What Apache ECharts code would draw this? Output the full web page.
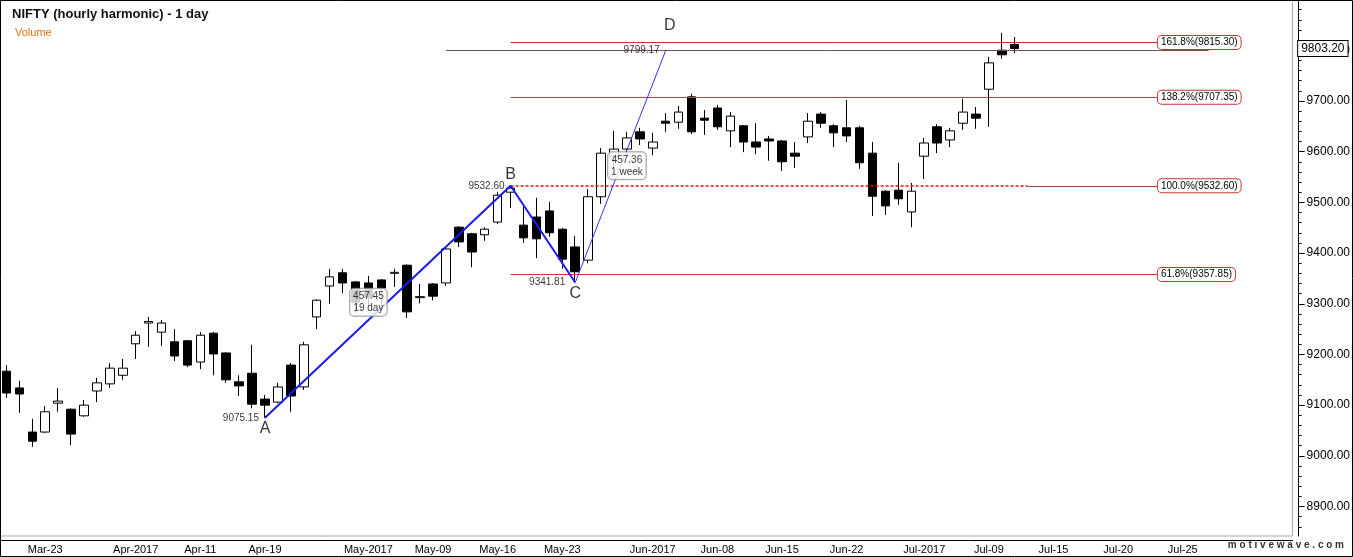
<!DOCTYPE html>
<html>
<head>
<meta charset="utf-8">
<script src="https://cdn.jsdelivr.net/npm/echarts@6/dist/echarts.min.js"></script>
<style>
html, body { margin: 0; padding: 0; background: #fff; }
#chart { width: 1353px; height: 557px; }
</style>
</head>
<body>
<div id="chart"></div>
<script>
// daily candles, [open, close, low, high]
var candles = [
  [9167,9124,9114,9179],[9134,9122,9085,9148],[9047,9029,9018,9073],[9047,9087,9045,9098],
  [9104,9108,9087,9134],[9092,9043,9021,9094],[9079,9100,9077,9110],[9128,9144,9106,9154],
  [9142,9173,9134,9183],[9159,9173,9150,9191],[9221,9238,9191,9246],[9262,9265,9215,9274],
  [9244,9262,9217,9268],[9225,9197,9187,9250],[9227,9179,9175,9228],[9185,9238,9171,9244],
  [9242,9201,9159,9244],[9203,9150,9144,9204],[9146,9138,9118,9159],[9163,9102,9094,9219],
  [9112,9100,9075.15,9120],[9106,9136,9104,9144],[9179,9118,9087,9183],[9136,9219,9130,9225],
  [9274,9307,9250,9309],[9335,9353,9300,9369],[9361,9341,9321,9369],[9343,9303,9282,9345],
  [9341,9313,9294,9355],[9347,9331,9288,9348],[9360,9362,9333,9369],[9376,9284,9272,9378],
  [9312,9314,9301,9339],[9339,9315,9307,9341],[9341,9408,9335,9410],[9451,9422,9412,9453],
  [9438,9402,9372,9440],[9436,9447,9424,9451],[9461,9514,9457,9520],[9520,9528,9489,9532.6],
  [9455,9430,9420,9491],[9471,9428,9390,9509],[9483,9440,9432,9501],[9447,9388,9369,9449],
  [9412,9363,9341.81,9434],[9386,9511,9380,9526],[9511,9597,9497,9607],[9590,9605,9570,9641],
  [9605,9627,9590,9639],[9639,9625,9613,9647],[9607,9619,9593,9637],[9660,9656,9639,9676],
  [9658,9678,9645,9690],[9708,9639,9635,9714],[9666,9662,9633,9682],[9686,9649,9643,9692],
  [9641,9670,9609,9678],[9651,9619,9599,9652],[9619,9609,9595,9656],[9625,9621,9582,9631],
  [9621,9580,9562,9623],[9597,9591,9568,9619],[9629,9660,9617,9676],[9674,9656,9647,9678],
  [9651,9637,9609,9654],[9647,9631,9619,9702],[9647,9578,9566,9651],[9597,9512,9473,9619],
  [9522,9493,9475,9524],[9524,9507,9495,9578],[9481,9522,9451,9538],[9591,9617,9546,9627],
  [9649,9617,9597,9654],[9623,9641,9609,9647],[9656,9678,9643,9704],[9674,9666,9645,9688],
  [9723,9775,9649,9787],[9800,9791,9783,9834],[9811,9803.2,9794,9826]
];
var slotCount = 100;
var tickIdx = [3, 10, 15, 20, 28, 33, 38, 43, 50, 55, 60, 65, 71, 76, 81, 86, 91, 98];
var tickLabels = ['Mar-23','Apr-2017','Apr-11','Apr-19','May-2017','May-09','May-16','May-23',
  'Jun-2017','Jun-08','Jun-15','Jun-22','Jul-2017','Jul-09','Jul-15','Jul-20','Jul-25',''];
var priceTicks = [8900, 9000, 9100, 9200, 9300, 9400, 9500, 9600, 9700, 9800];
var lastPrice = 9803.20;

// harmonic pivots: [slot, price, name]
var pivots = [[20, 9075.15, 'A'], [39, 9532.60, 'B'], [44, 9341.81, 'C'], [51.4, 9799.17, 'D']];
var legs = [
  { at: [28, 9303], text: '457.45\n19 day' },
  { at: [47.6, 9572], text: '457.36\n1 week' }
];
var fibs = [
  { pct: '161.8%', price: 9815.30, color: '#cc3333' },
  { pct: '138.2%', price: 9707.35, color: '#a04848' },
  { pct: '100.0%', price: 9532.60, color: '#b04040' },
  { pct: '61.8%', price: 9357.85, color: '#dd3333' }
];

var cats = [];
for (var i = 0; i < slotCount; i++) {
  var k = tickIdx.indexOf(i);
  cats.push(k >= 0 ? tickLabels[k] : ' ' + i);
}
var minorTicks = [];
for (var v = 8860; v <= 9880; v += 20) minorTicks.push(v);

var font = 'Liberation Sans, Arial, sans-serif';
var chart = echarts.init(document.getElementById('chart'));

function boxLabel(text) {
  return {
    show: true, position: 'end', distance: 1, formatter: text,
    color: '#000', fontSize: 10, fontFamily: font,
    backgroundColor: '#fff', borderColor: '#cc3333', borderWidth: 1, borderRadius: 4, padding: [2, 3, 1, 3]
  };
}
var fibLines = fibs.map(function (f) {
  var from = f.pct === '100.0%' ? 79 : 39;
  return [{ coord: [from, f.price], lineStyle: { color: f.color, width: 1 },
            label: boxLabel(f.pct + '(' + f.price.toFixed(2) + ')') },
          { coord: [88.8, f.price] }];
});
fibLines.push([{ coord: [39, 9532.60], lineStyle: { type: [3, 2], color: '#ee1111', width: 1.5 }, label: { show: false } },
               { coord: [79, 9532.60] }]);
fibLines.push([{ coord: [33.6, 9799.17], lineStyle: { color: '#705060', width: 1 }, label: { show: false } },
               { coord: [93, 9799.17] }]);
fibLines.push([{ coord: [slotCount - 3, lastPrice], lineStyle: { color: 'rgba(0,0,0,0)', width: 1 }, label: {
  show: true, position: 'end', distance: 12, formatter: lastPrice.toFixed(2),
  color: '#000', fontSize: 12, fontFamily: font,
  backgroundColor: '#fff', borderColor: '#000', borderWidth: 1, padding: [2, 3, 1, 3]
} }, { coord: [slotCount - 1, lastPrice] }]);

var option = {
  animation: false,
  backgroundColor: '#fff',
  title: [
    { text: 'NIFTY (hourly harmonic) - 1 day', left: 7, top: 3,
      textStyle: { fontSize: 13, fontWeight: 'bold', color: '#111', fontFamily: font } },
    { text: 'Volume', left: 10, top: 22, textStyle: { fontSize: 11, fontWeight: 'normal', color: '#e8720c', fontFamily: font } },
    { text: 'm o t i v e w a v e . c o m', right: 4, bottom: 2, textStyle: { fontSize: 10, fontWeight: 'bold', color: '#333', fontFamily: font } }
  ],
  grid: { left: -4, right: 57, top: 0, bottom: 21, show: true, borderColor: '#aaaaaa', borderWidth: 1 },
  xAxis: {
    type: 'category', data: cats, boundaryGap: true, offset: 4,
    axisLine: { lineStyle: { color: '#000', width: 1 } },
    axisTick: { inside: true, length: 5, alignWithLabel: true, lineStyle: { color: '#000' },
      interval: function (i) { return tickIdx.indexOf(i) >= 0; } },
    axisLabel: { color: '#000', fontSize: 11, fontFamily: font, margin: 4,
      interval: function (i) { return tickIdx.indexOf(i) >= 0; } },
    splitLine: { show: false }
  },
  yAxis: [
    { type: 'value', position: 'right', min: 8842, max: 9899, offset: 6,
      axisLine: { show: true, lineStyle: { color: '#000' } },
      axisTick: { show: true, length: 6, customValues: priceTicks, lineStyle: { color: '#000' } },
      axisLabel: { show: true, customValues: priceTicks, color: '#000', fontSize: 12, fontFamily: font, margin: 8,
        formatter: function (v) { return v.toFixed(2); } },
      splitLine: { show: false } },
    { type: 'value', position: 'right', min: 8842, max: 9899, offset: 6,
      axisLine: { show: false },
      axisTick: { show: true, length: 3, customValues: minorTicks, lineStyle: { color: '#000' } },
      axisLabel: { show: false },
      splitLine: { show: false } }
  ],
  series: [
    {
      type: 'candlestick', data: candles, barWidth: 9,
      itemStyle: { color: '#fff', color0: '#000', borderColor: '#000', borderColor0: '#000', borderWidth: 1 },
      markLine: { symbol: 'none', silent: true, lineStyle: { type: 'solid' }, data: fibLines }
    },
    {
      type: 'line', data: pivots.slice(0, 3).map(function (p) { return [p[0], p[1]]; }),
      symbol: 'none', lineStyle: { color: '#1a1aee', width: 2 }, z: 5
    },
    {
      type: 'line', data: pivots.slice(2).map(function (p) { return [p[0], p[1]]; }),
      symbol: 'none', lineStyle: { color: '#3333ee', width: 1 }, z: 5
    },
    {
      type: 'scatter', symbolSize: 0, z: 6,
      data: pivots.map(function (p, n) {
        return { value: [p[0], p[1]], label: { show: true, position: 'left', distance: n === 2 ? 10 : 6,
          formatter: p[1].toFixed(2), fontSize: 10, color: '#000', fontFamily: font } };
      })
    },
    {
      type: 'scatter', symbolSize: 0, z: 6,
      data: pivots.map(function (p, n) {
        var below = n === 0 || n === 2;
        return { value: [p[0], p[1]], label: { show: true, position: below ? 'bottom' : 'top',
          offset: n === 3 ? [4, -14] : [0, 0], distance: 3,
          formatter: p[2], fontSize: 16, color: '#000', fontFamily: font } };
      })
    },
    {
      type: 'scatter', symbolSize: 0, z: 7,
      data: legs.map(function (l) {
        return { value: l.at, label: { show: true, position: 'inside', formatter: l.text, fontSize: 10, lineHeight: 12,
          color: '#000', fontFamily: font, backgroundColor: '#fff', borderColor: '#888', borderWidth: 1,
          borderRadius: 4, padding: [2, 3, 1, 3] } };
      })
    }
  ],
  graphic: [
    { type: 'rect', shape: { x: 0.5, y: 0.5, width: 1352, height: 556 }, style: { fill: null, stroke: '#000', lineWidth: 1 }, z: 100 }
  ]
};
chart.setOption(option);
</script>
</body>
</html>
